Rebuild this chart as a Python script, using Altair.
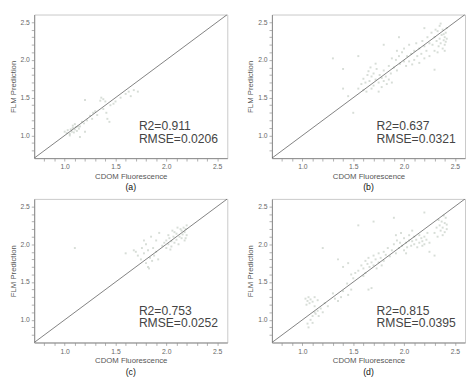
import altair as alt
import pandas as pd

# ---------------- data ----------------
a_x = [1.00,1.02,1.03,1.05,1.06,1.07,1.08,1.09,1.10,1.11,1.12,1.13,1.05,1.08,1.10,1.14,1.15,1.17,1.19,1.20,1.22,1.25,1.27,1.28,1.30,1.32,1.35,1.36,1.38,1.40,1.42,1.44,1.45,1.38,1.41,1.50,1.55,1.60,1.63,1.65,1.68,1.72,1.20,1.15,1.48]
a_y = [1.05,1.03,1.07,1.02,1.08,1.05,1.10,1.04,1.08,1.11,1.06,1.12,1.00,1.13,1.15,1.09,1.12,1.18,1.16,1.47,1.20,1.26,1.22,1.30,1.32,1.27,1.46,1.50,1.48,1.45,1.22,1.18,1.40,1.35,1.30,1.45,1.50,1.55,1.58,1.52,1.60,1.58,1.05,0.98,1.42]

b_x = [1.30,1.40,1.50,1.45,1.40,2.30,2.20,1.95,1.80,1.55,
       1.55,1.58,1.60,1.62,1.64,1.65,1.66,1.68,1.70,1.70,1.72,1.73,1.75,1.76,1.78,1.78,1.80,1.80,1.82,1.83,1.85,1.85,1.87,1.88,1.60,1.67,1.72,1.63,1.68,1.75,
       1.90,1.92,1.93,1.95,1.96,1.98,2.00,2.00,2.02,2.03,2.05,2.05,2.07,2.08,2.10,2.10,2.12,2.13,2.15,2.15,2.17,2.18,2.20,2.20,2.22,2.23,2.25,2.25,1.88,1.93,
       2.28,2.30,2.30,2.32,2.33,2.34,2.35,2.35,2.36,2.37,2.38,2.38,2.39,2.40,2.40,2.41,2.41,2.42,2.42,2.36,2.39,2.33,2.27,2.40,2.31]
b_y = [2.02,1.88,1.30,1.52,1.62,1.87,2.42,2.30,2.20,2.05,
       1.62,1.68,1.75,1.70,1.80,1.85,1.72,1.78,1.82,1.66,1.74,1.88,1.70,1.80,1.64,1.76,1.72,1.86,1.78,1.68,1.74,1.92,1.82,1.70,1.60,1.90,1.95,1.58,1.62,1.58,
       1.90,2.00,1.86,2.05,1.95,2.10,1.98,2.15,1.92,2.05,2.20,1.98,2.08,1.94,2.12,2.00,2.22,2.05,1.96,2.15,2.08,2.25,2.02,2.18,2.12,2.30,2.05,2.22,2.02,2.12,
       2.20,2.30,2.12,2.25,2.38,2.18,2.28,2.45,2.22,2.33,2.15,2.40,2.26,2.30,2.20,2.36,2.24,2.42,2.28,2.48,2.34,2.10,2.36,2.12,2.40]

c_x = [1.10,1.60,
       1.70,1.72,1.75,1.76,1.78,1.80,1.80,1.82,1.82,1.84,1.85,1.86,1.87,1.88,1.90,1.90,1.92,1.93,1.83,1.78,1.68,
       1.96,1.98,2.00,2.00,2.02,2.03,2.05,2.05,2.07,2.08,2.10,2.10,2.12,2.13,2.15,2.15,2.16,2.17,2.18,2.18,2.19,2.20,2.20,2.14,2.08,2.11,2.02,2.06,2.19,2.04]
c_y = [1.95,1.88,
       1.90,1.85,1.80,1.95,1.88,1.75,2.00,1.70,1.92,1.82,2.10,1.78,1.95,1.85,1.90,2.05,1.80,2.15,1.68,2.05,1.92,
       1.98,2.02,1.95,2.05,2.00,2.08,1.97,2.04,2.10,2.02,2.06,2.14,2.00,2.10,2.18,2.08,2.13,2.22,2.05,2.16,2.20,2.12,2.25,2.20,2.16,2.22,2.12,2.18,2.08,1.93]

d_x = [1.03,1.05,1.06,1.07,1.08,1.10,1.12,1.05,1.06,1.08,1.10,1.12,1.13,1.15,1.16,1.18,1.20,1.15,1.12,1.04,1.22,1.25,1.10,
       1.38,1.40,1.45,1.48,1.50,1.52,1.30,1.35,1.48,1.44,1.32,
       1.55,1.58,1.60,1.62,1.64,1.65,1.66,1.68,1.70,1.70,1.72,1.73,1.75,1.75,1.77,1.78,1.80,1.80,1.62,1.65,1.68,1.60,1.82,1.84,1.86,
       1.88,1.90,1.92,1.93,1.95,1.96,1.98,2.00,2.00,2.02,2.03,2.05,2.05,2.07,2.08,2.10,2.10,2.12,2.13,2.15,2.15,2.17,2.18,2.18,2.20,2.20,2.22,2.23,2.25,1.97,2.08,1.92,2.02,
       2.30,2.32,2.33,2.35,2.36,2.37,2.38,2.38,2.40,2.40,2.41,2.42,2.42,2.39,2.34,
       1.20,1.55,1.70,2.30,1.35,1.90,2.20,1.45,2.25,1.40]
d_y = [1.28,1.25,1.30,1.22,1.27,1.24,1.30,0.95,0.90,1.00,1.05,1.10,1.08,1.12,1.05,1.15,1.10,1.26,1.18,1.20,1.22,1.18,0.96,
       1.30,1.38,1.33,1.40,1.55,1.62,1.35,1.25,1.60,1.48,1.28,
       1.65,1.72,1.68,1.78,1.74,1.82,1.70,1.76,1.85,1.72,1.80,1.68,1.88,1.76,1.82,1.72,1.90,1.78,1.62,1.40,1.42,1.58,1.86,1.95,1.84,
       1.92,2.00,1.88,2.05,1.95,2.02,1.98,2.08,1.92,2.02,1.96,2.05,2.12,1.98,2.04,2.00,2.10,2.06,1.96,2.02,2.12,2.08,1.98,2.04,2.10,2.00,2.06,2.15,2.02,2.15,2.18,2.12,1.88,
       2.15,2.22,2.10,2.25,2.18,2.30,2.12,2.22,2.28,2.16,2.35,2.20,2.26,2.38,2.32,
       1.95,2.25,2.30,1.85,1.80,2.35,2.42,1.75,1.90,1.70]

panels = [
    ("(a)", a_x, a_y, "R2=0.911", "RMSE=0.0206"),
    ("(b)", b_x, b_y, "R2=0.637", "RMSE=0.0321"),
    ("(c)", c_x, c_y, "R2=0.753", "RMSE=0.0252"),
    ("(d)", d_x, d_y, "R2=0.815", "RMSE=0.0395"),
]

diag = [0.7, 2.6]
tick_vals = [0.8,0.9,1.0,1.1,1.2,1.3,1.4,1.5,1.6,1.7,1.8,1.9,2.0,2.1,2.2,2.3,2.4,2.5]
ann_x = 1.73
ann_y = [1.12, 0.95]

FONT = "Liberation Sans"
DOMAIN = [0.7, 2.6]
label_expr = "abs(datum.value*2 - round(datum.value*2)) < 0.001 ? format(datum.value, '.1f') : ''"

def make_panel(cap, xs, ys, l1, l2):
    pts = pd.DataFrame({"x": xs, "y": ys})
    line = pd.DataFrame({"x": diag, "y": diag})
    txt = pd.DataFrame({"x": [ann_x, ann_x], "y": ann_y, "t": [l1, l2]})
    xax = alt.Axis(title="CDOM Fluorescence", values=tick_vals, labelExpr=label_expr)
    yax = alt.Axis(title="FLM Prediction", values=tick_vals, labelExpr=label_expr)
    xs_ = alt.Scale(domain=DOMAIN, nice=False, zero=False)
    ys_ = alt.Scale(domain=DOMAIN, nice=False, zero=False)
    p = alt.Chart(pts).mark_square(size=4, color="#d3d9d3", opacity=0.9).encode(
        x=alt.X("x:Q", scale=xs_, axis=xax),
        y=alt.Y("y:Q", scale=ys_, axis=yax),
    )
    l = alt.Chart(line).mark_line(color="#5e5e5e", strokeWidth=0.8, clip=True).encode(
        x=alt.X("x:Q", scale=xs_, axis=xax),
        y=alt.Y("y:Q", scale=ys_, axis=yax),
    )
    t = alt.Chart(txt).mark_text(align="left", baseline="middle", fontSize=12.5,
                                 font=FONT, color="#444444").encode(
        x=alt.X("x:Q", scale=xs_, axis=xax),
        y=alt.Y("y:Q", scale=ys_, axis=yax),
        text="t:N",
    )
    return alt.layer(p, l, t).properties(
        width=199, height=148,
        title=alt.TitleParams(text=cap, orient="bottom", fontSize=9, font=FONT,
                              fontWeight="normal", color="#111111", offset=3),
    )

charts = [make_panel(*p) for p in panels]
row1 = alt.hconcat(charts[0], charts[1], spacing=18)
row2 = alt.hconcat(charts[2], charts[3], spacing=18)
chart = alt.vconcat(row1, row2, spacing=5).properties(
    padding={"left": 0, "top": 0, "right": 0, "bottom": 0}
).configure(padding=0).configure_view(
    stroke="#c8c8c8", strokeWidth=1
).configure_axis(
    grid=False, domainColor="#8a8a8a", domainWidth=1, tickColor="#9a9a9a",
    tickSize=3, tickWidth=0.8, labelFontSize=7, labelColor="#666666", labelFont=FONT,
    labelPadding=2, titleFontSize=8, titleFont=FONT, titleColor="#555555",
    titleFontWeight="normal", titlePadding=3, labelFlush=False, labelOverlap=False,
)

chart.save("out.html", embed_options={"renderer": "svg", "actions": False})
